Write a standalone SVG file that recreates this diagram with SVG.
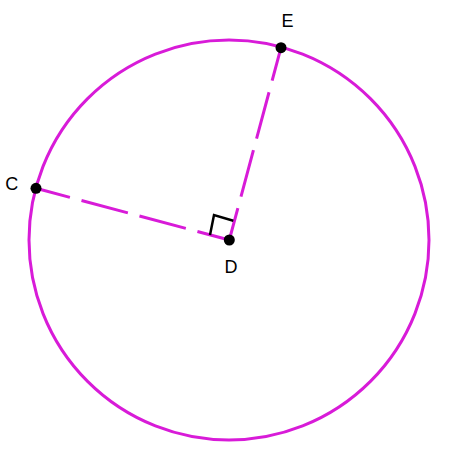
<svg xmlns="http://www.w3.org/2000/svg" width="450" height="462" viewBox="0 0 450 462">
<style>
.c{fill:none;stroke:#D81BD8;stroke-width:3}
.d{fill:none;stroke:#D81BD8;stroke-width:3;stroke-dasharray:48 12}
.pt{fill:#000}
.lb{font-family:"Liberation Sans",Arial,sans-serif;font-size:18px;fill:#000;text-anchor:middle}
</style>
<rect width="450" height="462" fill="#fff"/>
<g id="circle"><circle class="c" cx="229" cy="240" r="200"/></g>
<g id="connectors">
<line class="d" x1="229.3" y1="240" x2="36" y2="188.3" stroke-dashoffset="15"/>
<line class="d" x1="229.3" y1="240" x2="281" y2="47.7" stroke-dashoffset="15"/>
<polyline points="210,235 214,215 233.3,220.7" fill="none" stroke="#000" stroke-width="2.5"/>
</g>
<g id="node-C"><circle class="pt" cx="36" cy="188.3" r="5.5"/><text class="lb" x="11.7" y="189.5">C</text></g>
<g id="node-D"><circle class="pt" cx="229.3" cy="240" r="5.5"/><text class="lb" x="231" y="273">D</text></g>
<g id="node-E"><circle class="pt" cx="281" cy="47.7" r="5.5"/><text class="lb" x="287.5" y="26.5">E</text></g>
</svg>
